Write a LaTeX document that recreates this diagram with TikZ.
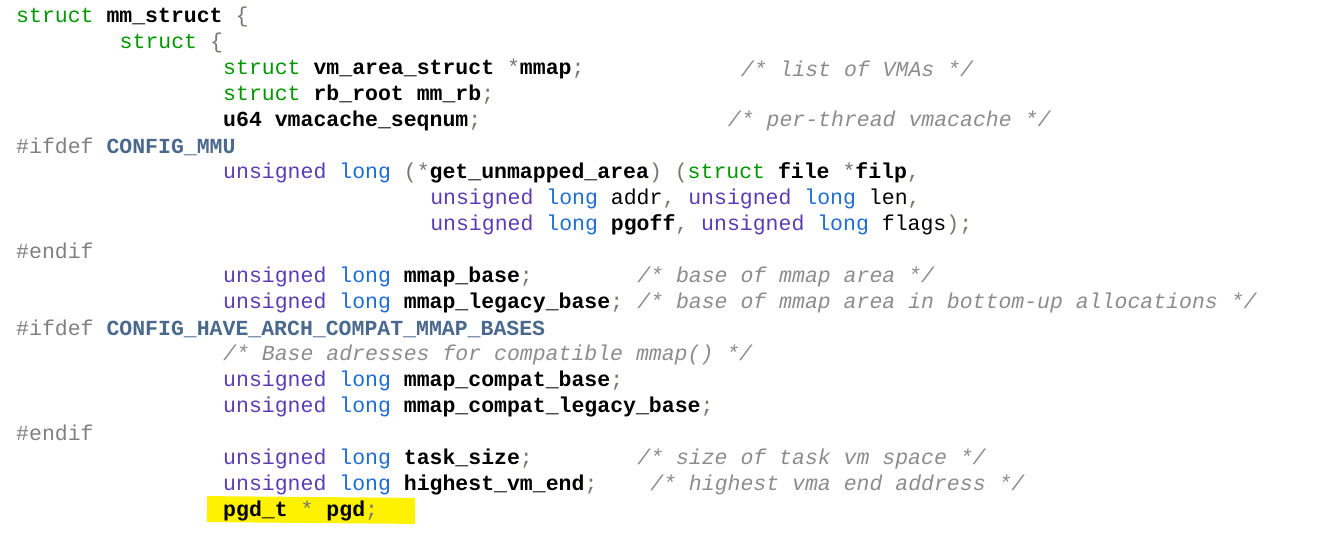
\documentclass[tikz,border=0pt]{standalone}
\usepackage{fontspec}
\setmainfont{Liberation Mono}
\definecolor{kw}{RGB}{0,150,0}
\definecolor{uns}{RGB}{90,60,180}
\definecolor{lng}{RGB}{30,110,210}
\definecolor{pp}{RGB}{128,128,128}
\definecolor{mac}{RGB}{75,105,140}
\definecolor{cm}{RGB}{140,140,140}
\definecolor{pu}{RGB}{120,120,110}
\newcommand{\K}{\textcolor{kw}{struct}}
\newcommand{\U}{\textcolor{uns}{unsigned}}
\newcommand{\LL}{\textcolor{lng}{long}}
\newcommand{\I}[1]{\textbf{#1}}
\newcommand{\Pu}[1]{\textcolor{pu}{#1}}
\newcommand{\Cm}[1]{\textcolor{cm}{\itshape #1}}
\newcommand{\Mc}[1]{\textcolor{mac}{\bfseries #1}}
\newcommand{\Pp}[1]{\textcolor{pp}{#1}}
\newcommand{\seg}[4]{\node[txt] (#1) at ({16+#3*12.94},{-17-26*#2}) {#4};}
\begin{document}
\begin{tikzpicture}[x=1pt,y=1pt,txt/.style={anchor=west,inner sep=0pt,font=\fontsize{21.5}{24}\selectfont}]
\useasboundingbox (0,0) rectangle (1331,-548);
\fill[yellow, rotate around={-0.5:(311,-510)}] (207,-523) rectangle (415,-497);
\seg{l0}{0}{0}{\K\ \I{mm\_struct}\ \Pu{\{}}
\seg{l1}{1}{8}{\K\ \Pu{\{}}
\seg{l2}{2}{16}{\K\ \I{vm\_area\_struct}\ \Pu{*}\I{mmap}\Pu{;}}
\seg{c2}{2}{56}{\Cm{/*\ list\ of\ VMAs\ */}}
\seg{l3}{3}{16}{\K\ \I{rb\_root}\ \I{mm\_rb}\Pu{;}}
\seg{l4}{4}{16}{\I{u64}\ \I{vmacache\_seqnum}\Pu{;}}
\seg{c4}{4}{55}{\Cm{/*\ per-thread\ vmacache\ */}}
\seg{l5}{5}{0}{\Pp{\#ifdef}\ \Mc{CONFIG\_MMU}}
\seg{l6}{6}{16}{\U\ \LL\ \Pu{(*}\I{get\_unmapped\_area}\Pu{)}\ \Pu{(}\K\ \I{file}\ \Pu{*}\I{filp}\Pu{,}}
\seg{l7}{7}{32}{\U\ \LL\ addr\Pu{,}\ \U\ \LL\ len\Pu{,}}
\seg{l8}{8}{32}{\U\ \LL\ \I{pgoff}\Pu{,}\ \U\ \LL\ flags\Pu{);}}
\seg{l9}{9}{0}{\Pp{\#endif}}
\seg{l10}{10}{16}{\U\ \LL\ \I{mmap\_base}\Pu{;}}
\seg{c10}{10}{48}{\Cm{/*\ base\ of\ mmap\ area\ */}}
\seg{l11}{11}{16}{\U\ \LL\ \I{mmap\_legacy\_base}\Pu{;}}
\seg{c11}{11}{48}{\Cm{/*\ base\ of\ mmap\ area\ in\ bottom-up\ allocations\ */}}
\seg{l12}{12}{0}{\Pp{\#ifdef}\ \Mc{CONFIG\_HAVE\_ARCH\_COMPAT\_MMAP\_BASES}}
\seg{l13}{13}{16}{\Cm{/*\ Base\ adresses\ for\ compatible\ mmap()\ */}}
\seg{l14}{14}{16}{\U\ \LL\ \I{mmap\_compat\_base}\Pu{;}}
\seg{l15}{15}{16}{\U\ \LL\ \I{mmap\_compat\_legacy\_base}\Pu{;}}
\seg{l16}{16}{0}{\Pp{\#endif}}
\seg{l17}{17}{16}{\U\ \LL\ \I{task\_size}\Pu{;}}
\seg{c17}{17}{48}{\Cm{/*\ size\ of\ task\ vm\ space\ */}}
\seg{l18}{18}{16}{\U\ \LL\ \I{highest\_vm\_end}\Pu{;}}
\seg{c18}{18}{49}{\Cm{/*\ highest\ vma\ end\ address\ */}}
\seg{l19}{19}{16}{\I{pgd\_t}\ \Pu{*}\ \I{pgd}\Pu{;}}
\end{tikzpicture}
\end{document}
